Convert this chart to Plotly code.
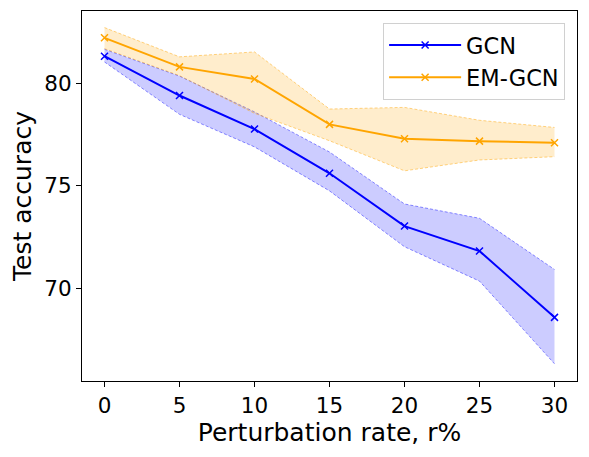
import plotly.graph_objects as go

rates = [0, 5, 10, 15, 20, 25, 30]

gcn_mean = [81.33, 79.41, 77.77, 75.61, 73.03, 71.81, 68.57]
gcn_upper = [81.67, 80.36, 78.61, 76.65, 74.11, 73.41, 70.91]
gcn_lower = [81.05, 78.49, 76.90, 74.75, 72.02, 70.34, 66.30]

em_mean = [82.23, 80.81, 80.22, 78.00, 77.30, 77.18, 77.10]
em_upper = [82.73, 81.30, 81.54, 78.75, 78.83, 78.20, 77.85]
em_lower = [81.70, 80.38, 78.54, 77.20, 75.73, 76.26, 76.42]

x_ticks = [0, 5, 10, 15, 20, 25, 30]
y_ticks = [70, 75, 80]

FONT = dict(family="DejaVu Sans", size=20.5, color="black")
TICK_FONT = dict(family="DejaVu Sans", size=21.5, color="black")
LEGEND_FONT = dict(family="DejaVu Sans", size=22.5, color="black")


def band_traces(upper, lower, line_color, fill_color):
    edge = dict(color=line_color, width=0.8, dash="3px,2px")
    return [
        go.Scatter(x=rates, y=upper, mode="lines", line=edge,
                   showlegend=False, hoverinfo="skip"),
        go.Scatter(x=rates, y=lower, mode="lines", line=edge,
                   fill="tonexty", fillcolor=fill_color,
                   showlegend=False, hoverinfo="skip"),
    ]


data = []
data += band_traces(gcn_upper, gcn_lower, "rgba(0,0,255,0.55)", "rgba(0,0,255,0.2)")
data += band_traces(em_upper, em_lower, "rgba(255,165,0,0.6)", "rgba(255,165,0,0.2)")
data.append(go.Scatter(x=rates, y=gcn_mean, mode="lines+markers", name="GCN",
                       line=dict(color="#0000ff", width=2),
                       marker=dict(symbol="x-thin", size=7,
                                   line=dict(color="#0000ff", width=1.5))))
data.append(go.Scatter(x=rates, y=em_mean, mode="lines+markers", name="EM-GCN",
                       line=dict(color="#ffa500", width=2),
                       marker=dict(symbol="x-thin", size=7,
                                   line=dict(color="#ffa500", width=1.5))))

# page body has an 8px margin, so the figure is drawn 8px smaller
layout = go.Layout(
    width=581, height=449,
    margin=dict(l=74, r=12, t=3, b=76),
    paper_bgcolor="white", plot_bgcolor="white",
    font=FONT,
    showlegend=True,
    legend=dict(x=0.976, y=0.968, xanchor="right", yanchor="top",
                traceorder="normal",
                bgcolor="rgba(255,255,255,0.8)", bordercolor="#d0d0d0",
                borderwidth=1, font=LEGEND_FONT,
                itemwidth=72, tracegroupgap=4),
    xaxis=dict(title=dict(text="Perturbation rate, r%", standoff=6),
               range=[-1.5, 31.5], tickvals=x_ticks, tickfont=TICK_FONT,
               showgrid=False, zeroline=False, automargin=False,
               showline=True, linecolor="black", linewidth=1, mirror=True,
               ticks="outside", ticklen=5, tickcolor="black"),
    yaxis=dict(title=dict(text="Test accuracy", standoff=10),
               range=[65.46, 83.54], tickvals=y_ticks, tickfont=TICK_FONT,
               showgrid=False, zeroline=False, automargin=False,
               showline=True, linecolor="black", linewidth=1, mirror=True,
               ticks="outside", ticklen=5, tickcolor="black"),
)

fig = go.Figure(data=data, layout=layout)
fig.write_html("out.html")
